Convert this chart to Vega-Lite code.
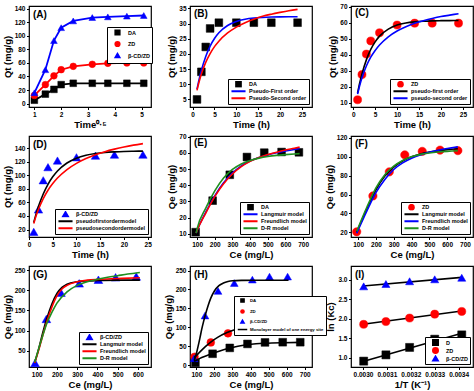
{
"$schema": "https://vega.github.io/schema/vega-lite/v6.json",
"padding": {"left": 1, "top": 3, "right": 1, "bottom": 1},
"config": {
 "font": "Liberation Sans",
 "view": {"stroke": "black", "strokeWidth": 1.2},
 "axis": {"grid": false, "domain": false, "tickColor": "black", "tickSize": 2.5, "tickWidth": 1, "labelFontSize": 6.5, "labelFontWeight": "bold", "labelColor": "black", "titleFontSize": 9.5, "titleFontWeight": "bold", "titleColor": "black", "labelPadding": 1.5, "titlePadding": 2, "labelFlush": false, "labelOverlap": false},
 "legend": {"orient": "bottom-right", "offset": 3, "padding": 2, "strokeColor": "black", "strokeWidth": 1, "fillColor": "white", "labelFontSize": 5.5, "labelFontWeight": "bold", "labelColor": "black", "symbolSize": 22, "symbolOffset": 5, "labelOffset": 7, "rowPadding": 0.01, "labelLimit": 200},
 "title": {"anchor": "start", "frame": "group", "offset": -14, "dx": 4, "fontSize": 10, "fontWeight": "bold", "color": "black"}
},
"datasets": {
 "Ap": [
  {"s":"DA","x":1,"y":5},{"s":"DA","x":1.41,"y":14},{"s":"DA","x":1.73,"y":21},{"s":"DA","x":2,"y":28},{"s":"DA","x":2.45,"y":30},{"s":"DA","x":3.16,"y":30},{"s":"DA","x":3.74,"y":30},{"s":"DA","x":4.45,"y":30},{"s":"DA","x":5.08,"y":30},
  {"s":"ZD","x":1,"y":12},{"s":"ZD","x":1.41,"y":28},{"s":"ZD","x":1.73,"y":41},{"s":"ZD","x":2,"y":50},{"s":"ZD","x":2.45,"y":55},{"s":"ZD","x":3.16,"y":58},{"s":"ZD","x":3.74,"y":59.5},{"s":"ZD","x":4.45,"y":60},{"s":"ZD","x":5.08,"y":60},
  {"s":"β-CD/ZD","x":1,"y":16},{"s":"β-CD/ZD","x":1.41,"y":50},{"s":"β-CD/ZD","x":1.73,"y":93},{"s":"β-CD/ZD","x":2,"y":112},{"s":"β-CD/ZD","x":2.45,"y":122},{"s":"β-CD/ZD","x":3.16,"y":127},{"s":"β-CD/ZD","x":3.74,"y":128},{"s":"β-CD/ZD","x":4.45,"y":129},{"s":"β-CD/ZD","x":5.08,"y":130}
 ],
 "Bp": [
  {"s":"DA","x":1,"y":5},{"s":"DA","x":2,"y":14.1},{"s":"DA","x":3,"y":22.3},{"s":"DA","x":4,"y":28.4},{"s":"DA","x":6,"y":30.3},{"s":"DA","x":10,"y":30.3},{"s":"DA","x":14,"y":30.3},{"s":"DA","x":18,"y":30.3},{"s":"DA","x":24,"y":30.3}
 ],
 "Bl": [
  {"s":"Pseudo-First order","x":1,"y":8.37},{"s":"Pseudo-First order","x":1.5,"y":11.7},{"s":"Pseudo-First order","x":2,"y":14.57},{"s":"Pseudo-First order","x":3,"y":19.17},{"s":"Pseudo-First order","x":4,"y":22.57},{"s":"Pseudo-First order","x":5,"y":25.09},{"s":"Pseudo-First order","x":6,"y":26.96},{"s":"Pseudo-First order","x":8,"y":29.37},{"s":"Pseudo-First order","x":10,"y":30.69},{"s":"Pseudo-First order","x":12,"y":31.42},{"s":"Pseudo-First order","x":14,"y":31.82},{"s":"Pseudo-First order","x":16,"y":32.03},{"s":"Pseudo-First order","x":18,"y":32.15},{"s":"Pseudo-First order","x":20,"y":32.22},{"s":"Pseudo-First order","x":22,"y":32.26},{"s":"Pseudo-First order","x":24,"y":32.28},
  {"s":"Pseudo-Second order","x":1,"y":8.0},{"s":"Pseudo-Second order","x":1.5,"y":10.9},{"s":"Pseudo-Second order","x":2,"y":13.4},{"s":"Pseudo-Second order","x":3,"y":17.2},{"s":"Pseudo-Second order","x":4,"y":20.1},{"s":"Pseudo-Second order","x":5,"y":22.4},{"s":"Pseudo-Second order","x":6,"y":24.2},{"s":"Pseudo-Second order","x":8,"y":26.9},{"s":"Pseudo-Second order","x":10,"y":28.85},{"s":"Pseudo-Second order","x":12,"y":30.3},{"s":"Pseudo-Second order","x":14,"y":31.45},{"s":"Pseudo-Second order","x":16,"y":32.4},{"s":"Pseudo-Second order","x":18,"y":33.1},{"s":"Pseudo-Second order","x":20,"y":33.7},{"s":"Pseudo-Second order","x":22,"y":34.25},{"s":"Pseudo-Second order","x":24,"y":34.7}
 ],
 "Cp": [
  {"s":"ZD","x":1,"y":12},{"s":"ZD","x":2,"y":27.7},{"s":"ZD","x":3,"y":40.5},{"s":"ZD","x":4,"y":48.7},{"s":"ZD","x":6,"y":53.8},{"s":"ZD","x":10,"y":58.6},{"s":"ZD","x":14,"y":59.8},{"s":"ZD","x":18,"y":59.8},{"s":"ZD","x":24,"y":59.8}
 ],
 "Cl": [
  {"s":"pseudo-first order","x":1,"y":16.2},{"s":"pseudo-first order","x":1.5,"y":22.6},{"s":"pseudo-first order","x":2,"y":28.1},{"s":"pseudo-first order","x":3,"y":36.9},{"s":"pseudo-first order","x":4,"y":43.4},{"s":"pseudo-first order","x":5,"y":48.1},{"s":"pseudo-first order","x":6,"y":51.7},{"s":"pseudo-first order","x":8,"y":56.1},{"s":"pseudo-first order","x":10,"y":58.6},{"s":"pseudo-first order","x":12,"y":59.9},{"s":"pseudo-first order","x":14,"y":60.6},{"s":"pseudo-first order","x":16,"y":61.0},{"s":"pseudo-first order","x":18,"y":61.25},{"s":"pseudo-first order","x":20,"y":61.35},{"s":"pseudo-first order","x":22,"y":61.4},{"s":"pseudo-first order","x":24,"y":61.45},
  {"s":"pseudo-second order","x":1,"y":15.5},{"s":"pseudo-second order","x":1.5,"y":21.1},{"s":"pseudo-second order","x":2,"y":25.8},{"s":"pseudo-second order","x":3,"y":33.1},{"s":"pseudo-second order","x":4,"y":38.6},{"s":"pseudo-second order","x":5,"y":42.8},{"s":"pseudo-second order","x":6,"y":46.2},{"s":"pseudo-second order","x":8,"y":51.3},{"s":"pseudo-second order","x":10,"y":54.9},{"s":"pseudo-second order","x":12,"y":57.6},{"s":"pseudo-second order","x":14,"y":59.7},{"s":"pseudo-second order","x":16,"y":61.3},{"s":"pseudo-second order","x":18,"y":62.7},{"s":"pseudo-second order","x":20,"y":63.9},{"s":"pseudo-second order","x":22,"y":64.8},{"s":"pseudo-second order","x":24,"y":65.7}
 ],
 "Dp": [
  {"s":"β-CD/ZD","x":1,"y":16.6},{"s":"β-CD/ZD","x":2,"y":49.6},{"s":"β-CD/ZD","x":3,"y":92.7},{"s":"β-CD/ZD","x":4,"y":112},{"s":"β-CD/ZD","x":6,"y":121.8},{"s":"β-CD/ZD","x":10,"y":126.6},{"s":"β-CD/ZD","x":14,"y":129},{"s":"β-CD/ZD","x":18,"y":130.5},{"s":"β-CD/ZD","x":24,"y":130.5}
 ],
 "Dl": [
  {"s":"pseudofirstordermodel","x":1,"y":30.5},{"s":"pseudofirstordermodel","x":1.5,"y":43.1},{"s":"pseudofirstordermodel","x":2,"y":54.2},{"s":"pseudofirstordermodel","x":3,"y":72.5},{"s":"pseudofirstordermodel","x":4,"y":86.8},{"s":"pseudofirstordermodel","x":5,"y":97.8},{"s":"pseudofirstordermodel","x":6,"y":106.4},{"s":"pseudofirstordermodel","x":8,"y":118.2},{"s":"pseudofirstordermodel","x":10,"y":125.3},{"s":"pseudofirstordermodel","x":12,"y":129.5},{"s":"pseudofirstordermodel","x":14,"y":132.1},{"s":"pseudofirstordermodel","x":16,"y":133.7},{"s":"pseudofirstordermodel","x":18,"y":134.6},{"s":"pseudofirstordermodel","x":20,"y":135.2},{"s":"pseudofirstordermodel","x":22,"y":135.5},{"s":"pseudofirstordermodel","x":24,"y":135.7},
  {"s":"pseudosecondordermodel","x":1,"y":29},{"s":"pseudosecondordermodel","x":1.5,"y":40.2},{"s":"pseudosecondordermodel","x":2,"y":49.9},{"s":"pseudosecondordermodel","x":3,"y":65.6},{"s":"pseudosecondordermodel","x":4,"y":78},{"s":"pseudosecondordermodel","x":5,"y":87.8},{"s":"pseudosecondordermodel","x":6,"y":96},{"s":"pseudosecondordermodel","x":8,"y":108.5},{"s":"pseudosecondordermodel","x":10,"y":117.7},{"s":"pseudosecondordermodel","x":12,"y":124.8},{"s":"pseudosecondordermodel","x":14,"y":130.4},{"s":"pseudosecondordermodel","x":16,"y":134.9},{"s":"pseudosecondordermodel","x":18,"y":138.6},{"s":"pseudosecondordermodel","x":20,"y":141.8},{"s":"pseudosecondordermodel","x":22,"y":144.5},{"s":"pseudosecondordermodel","x":24,"y":146.8}
 ],
 "Ep": [
  {"s":"DA","x":92,"y":11},{"s":"DA","x":188,"y":30.5},{"s":"DA","x":285,"y":46.5},{"s":"DA","x":382,"y":57.5},{"s":"DA","x":480,"y":60.2},{"s":"DA","x":578,"y":60.6},{"s":"DA","x":676,"y":60.4}
 ],
 "El": [
  {"s":"Langmuir model","x":95,"y":10.5},{"s":"Langmuir model","x":100,"y":12},{"s":"Langmuir model","x":150,"y":23.5},{"s":"Langmuir model","x":200,"y":33.5},{"s":"Langmuir model","x":250,"y":41.5},{"s":"Langmuir model","x":300,"y":47.5},{"s":"Langmuir model","x":350,"y":52},{"s":"Langmuir model","x":400,"y":55},{"s":"Langmuir model","x":450,"y":57.2},{"s":"Langmuir model","x":500,"y":58.8},{"s":"Langmuir model","x":550,"y":60.1},{"s":"Langmuir model","x":600,"y":61.2},{"s":"Langmuir model","x":650,"y":62.2},{"s":"Langmuir model","x":680,"y":62.8},
  {"s":"Freundlich model","x":95,"y":10.5},{"s":"Freundlich model","x":100,"y":12},{"s":"Freundlich model","x":150,"y":23},{"s":"Freundlich model","x":200,"y":33},{"s":"Freundlich model","x":250,"y":41},{"s":"Freundlich model","x":300,"y":47},{"s":"Freundlich model","x":350,"y":51.5},{"s":"Freundlich model","x":400,"y":54.8},{"s":"Freundlich model","x":450,"y":57.2},{"s":"Freundlich model","x":500,"y":59},{"s":"Freundlich model","x":550,"y":60.5},{"s":"Freundlich model","x":600,"y":61.8},{"s":"Freundlich model","x":650,"y":62.9},{"s":"Freundlich model","x":680,"y":63.6},
  {"s":"D-R model","x":95,"y":10.5},{"s":"D-R model","x":100,"y":13},{"s":"D-R model","x":150,"y":26},{"s":"D-R model","x":200,"y":36.5},{"s":"D-R model","x":250,"y":44.5},{"s":"D-R model","x":300,"y":49.8},{"s":"D-R model","x":350,"y":53.2},{"s":"D-R model","x":400,"y":55.4},{"s":"D-R model","x":450,"y":56.8},{"s":"D-R model","x":500,"y":57.8},{"s":"D-R model","x":550,"y":58.5},{"s":"D-R model","x":600,"y":59},{"s":"D-R model","x":650,"y":59.4},{"s":"D-R model","x":680,"y":59.6}
 ],
 "Fp": [
  {"s":"ZD","x":92,"y":20.5},{"s":"ZD","x":183,"y":58.5},{"s":"ZD","x":275,"y":84},{"s":"ZD","x":362,"y":102},{"s":"ZD","x":460,"y":105.7},{"s":"ZD","x":560,"y":107},{"s":"ZD","x":660,"y":106.5}
 ],
 "Fl": [
  {"s":"Langmuir model","x":92,"y":20},{"s":"Langmuir model","x":150,"y":45.5},{"s":"Langmuir model","x":200,"y":65},{"s":"Langmuir model","x":250,"y":79.5},{"s":"Langmuir model","x":300,"y":89},{"s":"Langmuir model","x":350,"y":95.5},{"s":"Langmuir model","x":400,"y":100},{"s":"Langmuir model","x":450,"y":103},{"s":"Langmuir model","x":500,"y":105},{"s":"Langmuir model","x":550,"y":106.5},{"s":"Langmuir model","x":600,"y":107.5},{"s":"Langmuir model","x":660,"y":108.5},
  {"s":"Freundlich model","x":92,"y":19},{"s":"Freundlich model","x":150,"y":43},{"s":"Freundlich model","x":200,"y":62},{"s":"Freundlich model","x":250,"y":76},{"s":"Freundlich model","x":300,"y":86.5},{"s":"Freundlich model","x":350,"y":93.5},{"s":"Freundlich model","x":400,"y":98.5},{"s":"Freundlich model","x":450,"y":102},{"s":"Freundlich model","x":500,"y":104.8},{"s":"Freundlich model","x":550,"y":107},{"s":"Freundlich model","x":600,"y":108.8},{"s":"Freundlich model","x":660,"y":110.5},
  {"s":"D-R model","x":92,"y":21},{"s":"D-R model","x":150,"y":47},{"s":"D-R model","x":200,"y":67},{"s":"D-R model","x":250,"y":81},{"s":"D-R model","x":300,"y":90},{"s":"D-R model","x":350,"y":96},{"s":"D-R model","x":400,"y":100},{"s":"D-R model","x":450,"y":102.5},{"s":"D-R model","x":500,"y":104},{"s":"D-R model","x":550,"y":105},{"s":"D-R model","x":600,"y":105.7},{"s":"D-R model","x":660,"y":106.3}
 ],
 "Gp": [
  {"s":"β-CD/ZD","x":92,"y":20},{"s":"β-CD/ZD","x":148,"y":129},{"s":"β-CD/ZD","x":220,"y":194},{"s":"β-CD/ZD","x":310,"y":217},{"s":"β-CD/ZD","x":405,"y":226},{"s":"β-CD/ZD","x":490,"y":232},{"s":"β-CD/ZD","x":592,"y":234}
 ],
 "Gl": [
  {"s":"Langmuir model","x":90,"y":20},{"s":"Langmuir model","x":110,"y":55},{"s":"Langmuir model","x":130,"y":95},{"s":"Langmuir model","x":150,"y":130},{"s":"Langmuir model","x":175,"y":166},{"s":"Langmuir model","x":200,"y":192},{"s":"Langmuir model","x":225,"y":207},{"s":"Langmuir model","x":250,"y":215},{"s":"Langmuir model","x":300,"y":221},{"s":"Langmuir model","x":350,"y":223},{"s":"Langmuir model","x":400,"y":224},{"s":"Langmuir model","x":500,"y":225},{"s":"Langmuir model","x":610,"y":225},
  {"s":"Freundlich model","x":90,"y":20},{"s":"Freundlich model","x":110,"y":52},{"s":"Freundlich model","x":130,"y":88},{"s":"Freundlich model","x":150,"y":122},{"s":"Freundlich model","x":175,"y":158},{"s":"Freundlich model","x":200,"y":186},{"s":"Freundlich model","x":225,"y":203},{"s":"Freundlich model","x":250,"y":212},{"s":"Freundlich model","x":300,"y":221},{"s":"Freundlich model","x":350,"y":225},{"s":"Freundlich model","x":400,"y":227},{"s":"Freundlich model","x":500,"y":229},{"s":"Freundlich model","x":610,"y":231},
  {"s":"D-R model","x":90,"y":22},{"s":"D-R model","x":110,"y":55},{"s":"D-R model","x":130,"y":88},{"s":"D-R model","x":150,"y":118},{"s":"D-R model","x":175,"y":145},{"s":"D-R model","x":200,"y":168},{"s":"D-R model","x":250,"y":196},{"s":"D-R model","x":300,"y":212},{"s":"D-R model","x":350,"y":221},{"s":"D-R model","x":400,"y":227},{"s":"D-R model","x":450,"y":232},{"s":"D-R model","x":500,"y":236},{"s":"D-R model","x":550,"y":240},{"s":"D-R model","x":610,"y":244}
 ],
 "Hp": [
  {"s":"DA","x":95,"y":6},{"s":"DA","x":190,"y":30},{"s":"DA","x":285,"y":45.5},{"s":"DA","x":383,"y":56},{"s":"DA","x":480,"y":60},{"s":"DA","x":578,"y":60.5},{"s":"DA","x":675,"y":60.5},
  {"s":"ZD","x":90,"y":22},{"s":"ZD","x":180,"y":60},{"s":"ZD","x":275,"y":84},{"s":"ZD","x":365,"y":101},{"s":"ZD","x":460,"y":105.5},{"s":"ZD","x":560,"y":107},{"s":"ZD","x":660,"y":107},
  {"s":"β-CD/ZD","x":88,"y":18},{"s":"β-CD/ZD","x":148,"y":131},{"s":"β-CD/ZD","x":220,"y":196},{"s":"β-CD/ZD","x":310,"y":217},{"s":"β-CD/ZD","x":410,"y":226},{"s":"β-CD/ZD","x":505,"y":234},{"s":"β-CD/ZD","x":605,"y":234}
 ],
 "Hl": [
  {"s":"Monolayer model of one energy site","g":"c","x":88,"y":12},{"s":"Monolayer model of one energy site","g":"c","x":100,"y":30},{"s":"Monolayer model of one energy site","g":"c","x":110,"y":50},{"s":"Monolayer model of one energy site","g":"c","x":120,"y":72},{"s":"Monolayer model of one energy site","g":"c","x":130,"y":95},{"s":"Monolayer model of one energy site","g":"c","x":140,"y":115},{"s":"Monolayer model of one energy site","g":"c","x":150,"y":133},{"s":"Monolayer model of one energy site","g":"c","x":165,"y":157},{"s":"Monolayer model of one energy site","g":"c","x":180,"y":177},{"s":"Monolayer model of one energy site","g":"c","x":200,"y":196},{"s":"Monolayer model of one energy site","g":"c","x":225,"y":210},{"s":"Monolayer model of one energy site","g":"c","x":250,"y":217},{"s":"Monolayer model of one energy site","g":"c","x":275,"y":221},{"s":"Monolayer model of one energy site","g":"c","x":300,"y":223},{"s":"Monolayer model of one energy site","g":"c","x":350,"y":224},{"s":"Monolayer model of one energy site","g":"c","x":450,"y":224.5},{"s":"Monolayer model of one energy site","g":"c","x":610,"y":224.5},
  {"s":"Monolayer model of one energy site","g":"z","x":88,"y":20},{"s":"Monolayer model of one energy site","g":"z","x":100,"y":25},{"s":"Monolayer model of one energy site","g":"z","x":120,"y":35},{"s":"Monolayer model of one energy site","g":"z","x":150,"y":49},{"s":"Monolayer model of one energy site","g":"z","x":180,"y":61},{"s":"Monolayer model of one energy site","g":"z","x":220,"y":74},{"s":"Monolayer model of one energy site","g":"z","x":270,"y":86},{"s":"Monolayer model of one energy site","g":"z","x":320,"y":95},{"s":"Monolayer model of one energy site","g":"z","x":370,"y":100.5},{"s":"Monolayer model of one energy site","g":"z","x":420,"y":103.5},{"s":"Monolayer model of one energy site","g":"z","x":470,"y":105.5},{"s":"Monolayer model of one energy site","g":"z","x":550,"y":107},{"s":"Monolayer model of one energy site","g":"z","x":660,"y":107.5},
  {"s":"Monolayer model of one energy site","g":"d","x":88,"y":10},{"s":"Monolayer model of one energy site","g":"d","x":100,"y":13},{"s":"Monolayer model of one energy site","g":"d","x":130,"y":20},{"s":"Monolayer model of one energy site","g":"d","x":180,"y":29},{"s":"Monolayer model of one energy site","g":"d","x":230,"y":37.5},{"s":"Monolayer model of one energy site","g":"d","x":280,"y":44.5},{"s":"Monolayer model of one energy site","g":"d","x":330,"y":50},{"s":"Monolayer model of one energy site","g":"d","x":380,"y":53.8},{"s":"Monolayer model of one energy site","g":"d","x":430,"y":56.3},{"s":"Monolayer model of one energy site","g":"d","x":480,"y":57.8},{"s":"Monolayer model of one energy site","g":"d","x":580,"y":59.3},{"s":"Monolayer model of one energy site","g":"d","x":680,"y":60}
 ],
 "Ip": [
  {"s":"D","x":0.003003,"y":0.92},{"s":"D","x":0.003096,"y":1.08},{"s":"D","x":0.003195,"y":1.27},{"s":"D","x":0.0033,"y":1.48},{"s":"D","x":0.003413,"y":1.59},
  {"s":"ZD","x":0.003003,"y":1.86},{"s":"ZD","x":0.003096,"y":1.93},{"s":"ZD","x":0.003195,"y":2.02},{"s":"ZD","x":0.0033,"y":2.12},{"s":"ZD","x":0.003413,"y":2.19},
  {"s":"β-CD/ZD","x":0.003003,"y":2.83},{"s":"β-CD/ZD","x":0.003096,"y":2.89},{"s":"β-CD/ZD","x":0.003195,"y":2.96},{"s":"β-CD/ZD","x":0.0033,"y":3.01},{"s":"β-CD/ZD","x":0.003413,"y":3.05}
 ],
 "Il": [
  {"s":"D","x":0.003,"y":0.91},{"s":"D","x":0.003413,"y":1.63},
  {"s":"ZD","x":0.003,"y":1.86},{"s":"ZD","x":0.003413,"y":2.2},
  {"s":"B","x":0.003,"y":2.84},{"s":"B","x":0.003413,"y":3.06}
 ]
},
"columns": 3,
"spacing": {"row": 29, "column": 39},
"bounds": "flush",
"resolve": {"scale": {"fill": "independent", "stroke": "independent", "shape": "independent"}, "legend": {"fill": "independent", "stroke": "independent", "shape": "independent"}},
"concat": [
 {
  "width": 122, "height": 101, "title": "(A)",
  "encoding": {
   "x": {"field": "x", "type": "quantitative", "scale": {"domain": [0.8, 5.35], "nice": false, "zero": false}, "axis": {"values": [1,2,3,4,5], "title": "Time⁰·⁵"}},
   "y": {"field": "y", "type": "quantitative", "scale": {"domain": [-5, 144], "nice": false, "zero": false}, "axis": {"values": [0,20,40,60,80,100,120,140], "title": "Qt (mg/g)"}}
  },
  "layer": [
   {"data": {"name": "Ap"}, "mark": {"type": "line", "strokeWidth": 1.8},
    "encoding": {"stroke": {"field": "s", "type": "nominal", "scale": {"domain": ["DA","ZD","β-CD/ZD"], "range": ["#000000","#ff0000","#0000ff"]}, "legend": {"title": null, "orient": "none", "legendX": 78, "legendY": 21, "symbolSize": 22, "rowPadding": 0.5, "encode": {"symbols": {"update": {"strokeWidth": {"value": 1.5}}}}}}}},
   {"data": {"name": "Ap"}, "mark": {"type": "point", "filled": true, "size": 45, "opacity": 1, "strokeWidth": 0.5},
    "encoding": {
     "fill": {"field": "s", "type": "nominal", "scale": {"domain": ["DA","ZD","β-CD/ZD"], "range": ["#000000","#ff0000","#0000ff"]}, "legend": {"title": null, "orient": "none", "legendX": 78, "legendY": 21, "symbolSize": 22, "rowPadding": 0.5, "encode": {"symbols": {"update": {"strokeWidth": {"value": 1.5}}}}}},
     "stroke": {"field": "s", "type": "nominal", "scale": {"domain": ["DA","ZD","β-CD/ZD"], "range": ["#000000","#ff0000","#0000ff"]}, "legend": {"title": null, "orient": "none", "legendX": 78, "legendY": 21, "symbolSize": 22, "rowPadding": 0.5, "encode": {"symbols": {"update": {"strokeWidth": {"value": 1.5}}}}}},
     "shape": {"field": "s", "type": "nominal", "scale": {"domain": ["DA","ZD","β-CD/ZD"], "range": ["square","circle","triangle-up"]}, "legend": {"title": null, "orient": "none", "legendX": 78, "legendY": 21, "symbolSize": 22, "rowPadding": 0.5, "encode": {"symbols": {"update": {"strokeWidth": {"value": 1.5}}}}}}
    }}
  ]
 },
 {
  "width": 122, "height": 101, "title": "(B)",
  "encoding": {
   "x": {"field": "x", "type": "quantitative", "scale": {"domain": [-0.6, 27.3], "nice": false, "zero": false}, "axis": {"values": [0,5,10,15,20,25], "title": "Time (h)"}},
   "y": {"field": "y", "type": "quantitative", "scale": {"domain": [2.5, 35.8], "nice": false, "zero": false}, "axis": {"values": [5,10,15,20,25,30,35], "title": "Qt (mg/g)"}}
  },
  "layer": [
   {"data": {"name": "Bp"}, "mark": {"type": "point", "filled": true, "size": 60, "opacity": 1, "strokeWidth": 0.5},
    "encoding": {
     "fill": {"field": "s", "type": "nominal", "scale": {"domain": ["DA","Pseudo-First order","Pseudo-Second order"], "range": ["#000000","#0000ff","#ff0000"]}, "legend": {"title": null, "symbolSize": 22, "rowPadding": 0.01, "clipHeight": 6.5, "encode": {"symbols": {"update": {"strokeWidth": {"value": 2}}}}}},
     "stroke": {"field": "s", "type": "nominal", "scale": {"domain": ["DA","Pseudo-First order","Pseudo-Second order"], "range": ["#000000","#0000ff","#ff0000"]}, "legend": {"title": null, "symbolSize": 22, "rowPadding": 0.01, "clipHeight": 6.5, "encode": {"symbols": {"update": {"strokeWidth": {"value": 2}}}}}},
     "shape": {"field": "s", "type": "nominal", "scale": {"domain": ["DA","Pseudo-First order","Pseudo-Second order"], "range": ["square","M-3,0H3","M-3,0H3"]}, "legend": {"title": null, "symbolSize": 22, "rowPadding": 0.01, "clipHeight": 6.5, "encode": {"symbols": {"update": {"strokeWidth": {"value": 2}}}}}}
    }},
   {"data": {"name": "Bl"}, "mark": {"type": "line", "strokeWidth": 1.6, "interpolate": "monotone"},
    "encoding": {"stroke": {"field": "s", "type": "nominal", "scale": {"domain": ["DA","Pseudo-First order","Pseudo-Second order"], "range": ["#000000","#0000ff","#ff0000"]}, "legend": {"title": null, "symbolSize": 22, "rowPadding": 0.01, "clipHeight": 6.5, "encode": {"symbols": {"update": {"strokeWidth": {"value": 2}}}}}}}}
  ]
 },
 {
  "width": 122, "height": 101, "title": "(C)",
  "encoding": {
   "x": {"field": "x", "type": "quantitative", "scale": {"domain": [-0.5, 27.3], "nice": false, "zero": false}, "axis": {"values": [0,5,10,15,20,25], "title": "Time (h)"}},
   "y": {"field": "y", "type": "quantitative", "scale": {"domain": [7.5, 70.5], "nice": false, "zero": false}, "axis": {"values": [10,20,30,40,50,60,70], "title": "Qt (mg/g)"}}
  },
  "layer": [
   {"data": {"name": "Cp"}, "mark": {"type": "point", "filled": true, "size": 65, "opacity": 1, "strokeWidth": 0.5},
    "encoding": {
     "fill": {"field": "s", "type": "nominal", "scale": {"domain": ["ZD","pseudo-first order","pseudo-second order"], "range": ["#ff0000","#000000","#0000ff"]}, "legend": {"title": null, "symbolSize": 22, "rowPadding": 0.01, "clipHeight": 6.5, "encode": {"symbols": {"update": {"strokeWidth": {"value": 2}}}}}},
     "stroke": {"field": "s", "type": "nominal", "scale": {"domain": ["ZD","pseudo-first order","pseudo-second order"], "range": ["#ff0000","#000000","#0000ff"]}, "legend": {"title": null, "symbolSize": 22, "rowPadding": 0.01, "clipHeight": 6.5, "encode": {"symbols": {"update": {"strokeWidth": {"value": 2}}}}}},
     "shape": {"field": "s", "type": "nominal", "scale": {"domain": ["ZD","pseudo-first order","pseudo-second order"], "range": ["circle","M-3,0H3","M-3,0H3"]}, "legend": {"title": null, "symbolSize": 22, "rowPadding": 0.01, "clipHeight": 6.5, "encode": {"symbols": {"update": {"strokeWidth": {"value": 2}}}}}}
    }},
   {"data": {"name": "Cl"}, "mark": {"type": "line", "strokeWidth": 1.6, "interpolate": "monotone"},
    "encoding": {"stroke": {"field": "s", "type": "nominal", "scale": {"domain": ["ZD","pseudo-first order","pseudo-second order"], "range": ["#ff0000","#000000","#0000ff"]}, "legend": {"title": null, "symbolSize": 22, "rowPadding": 0.01, "clipHeight": 6.5, "encode": {"symbols": {"update": {"strokeWidth": {"value": 2}}}}}}}}
  ]
 },
 {
  "width": 122, "height": 101, "title": "(D)",
  "encoding": {
   "x": {"field": "x", "type": "quantitative", "scale": {"domain": [0, 25.7], "nice": false, "zero": false}, "axis": {"values": [0,5,10,15,20,25], "title": "Time (h)"}},
   "y": {"field": "y", "type": "quantitative", "scale": {"domain": [9, 158], "nice": false, "zero": false}, "axis": {"values": [20,40,60,80,100,120,140], "title": "Qt (mg/g)"}}
  },
  "layer": [
   {"data": {"name": "Dp"}, "mark": {"type": "point", "filled": true, "size": 70, "opacity": 1, "strokeWidth": 0.5},
    "encoding": {
     "fill": {"field": "s", "type": "nominal", "scale": {"domain": ["β-CD/ZD","pseudofirstordermodel","pseudosecondordermodel"], "range": ["#0000ff","#000000","#ff0000"]}, "legend": {"title": null, "symbolSize": 22, "rowPadding": 0.01, "clipHeight": 6.5, "encode": {"symbols": {"update": {"strokeWidth": {"value": 2}}}}}},
     "stroke": {"field": "s", "type": "nominal", "scale": {"domain": ["β-CD/ZD","pseudofirstordermodel","pseudosecondordermodel"], "range": ["#0000ff","#000000","#ff0000"]}, "legend": {"title": null, "symbolSize": 22, "rowPadding": 0.01, "clipHeight": 6.5, "encode": {"symbols": {"update": {"strokeWidth": {"value": 2}}}}}},
     "shape": {"field": "s", "type": "nominal", "scale": {"domain": ["β-CD/ZD","pseudofirstordermodel","pseudosecondordermodel"], "range": ["triangle-up","M-3,0H3","M-3,0H3"]}, "legend": {"title": null, "symbolSize": 22, "rowPadding": 0.01, "clipHeight": 6.5, "encode": {"symbols": {"update": {"strokeWidth": {"value": 2}}}}}}
    }},
   {"data": {"name": "Dl"}, "mark": {"type": "line", "strokeWidth": 1.6, "interpolate": "monotone"},
    "encoding": {"stroke": {"field": "s", "type": "nominal", "scale": {"domain": ["β-CD/ZD","pseudofirstordermodel","pseudosecondordermodel"], "range": ["#0000ff","#000000","#ff0000"]}, "legend": {"title": null, "symbolSize": 22, "rowPadding": 0.01, "clipHeight": 6.5, "encode": {"symbols": {"update": {"strokeWidth": {"value": 2}}}}}}}}
  ]
 },
 {
  "width": 122, "height": 101, "title": "(E)",
  "encoding": {
   "x": {"field": "x", "type": "quantitative", "scale": {"domain": [60, 750], "nice": false, "zero": false}, "axis": {"values": [100,200,300,400,500,600,700], "title": "Ce (mg/L)"}},
   "y": {"field": "y", "type": "quantitative", "scale": {"domain": [8, 70.5], "nice": false, "zero": false}, "axis": {"values": [10,20,30,40,50,60,70], "title": "Qe (mg/g)"}}
  },
  "layer": [
   {"data": {"name": "Ep"}, "mark": {"type": "point", "filled": true, "size": 60, "opacity": 1, "strokeWidth": 0.5},
    "encoding": {
     "fill": {"field": "s", "type": "nominal", "scale": {"domain": ["DA","Langmuir model","Freundlich model","D-R model"], "range": ["#000000","#0000ff","#ff0000","#1f8f1f"]}, "legend": {"title": null, "symbolSize": 22, "rowPadding": 0.01, "clipHeight": 6.5, "encode": {"symbols": {"update": {"strokeWidth": {"value": 2}}}}}},
     "stroke": {"field": "s", "type": "nominal", "scale": {"domain": ["DA","Langmuir model","Freundlich model","D-R model"], "range": ["#000000","#0000ff","#ff0000","#1f8f1f"]}, "legend": {"title": null, "symbolSize": 22, "rowPadding": 0.01, "clipHeight": 6.5, "encode": {"symbols": {"update": {"strokeWidth": {"value": 2}}}}}},
     "shape": {"field": "s", "type": "nominal", "scale": {"domain": ["DA","Langmuir model","Freundlich model","D-R model"], "range": ["square","M-3,0H3","M-3,0H3","M-3,0H3"]}, "legend": {"title": null, "symbolSize": 22, "rowPadding": 0.01, "clipHeight": 6.5, "encode": {"symbols": {"update": {"strokeWidth": {"value": 2}}}}}}
    }},
   {"data": {"name": "El"}, "mark": {"type": "line", "strokeWidth": 1.6, "interpolate": "monotone"},
    "encoding": {"stroke": {"field": "s", "type": "nominal", "scale": {"domain": ["DA","Langmuir model","Freundlich model","D-R model"], "range": ["#000000","#0000ff","#ff0000","#1f8f1f"]}, "legend": {"title": null, "symbolSize": 22, "rowPadding": 0.01, "clipHeight": 6.5, "encode": {"symbols": {"update": {"strokeWidth": {"value": 2}}}}}}}}
  ]
 },
 {
  "width": 122, "height": 101, "title": "(F)",
  "encoding": {
   "x": {"field": "x", "type": "quantitative", "scale": {"domain": [60, 745], "nice": false, "zero": false}, "axis": {"values": [100,200,300,400,500,600,700], "title": "Ce (mg/L)"}},
   "y": {"field": "y", "type": "quantitative", "scale": {"domain": [15, 122], "nice": false, "zero": false}, "axis": {"values": [20,40,60,80,100,120], "title": "Qe (mg/g)"}}
  },
  "layer": [
   {"data": {"name": "Fp"}, "mark": {"type": "point", "filled": true, "size": 70, "opacity": 1, "strokeWidth": 0.5},
    "encoding": {
     "fill": {"field": "s", "type": "nominal", "scale": {"domain": ["ZD","Langmuir model","Freundlich model","D-R model"], "range": ["#ff0000","#000000","#0000ff","#1f8f1f"]}, "legend": {"title": null, "symbolSize": 22, "rowPadding": 0.01, "clipHeight": 6.5, "encode": {"symbols": {"update": {"strokeWidth": {"value": 2}}}}}},
     "stroke": {"field": "s", "type": "nominal", "scale": {"domain": ["ZD","Langmuir model","Freundlich model","D-R model"], "range": ["#ff0000","#000000","#0000ff","#1f8f1f"]}, "legend": {"title": null, "symbolSize": 22, "rowPadding": 0.01, "clipHeight": 6.5, "encode": {"symbols": {"update": {"strokeWidth": {"value": 2}}}}}},
     "shape": {"field": "s", "type": "nominal", "scale": {"domain": ["ZD","Langmuir model","Freundlich model","D-R model"], "range": ["circle","M-3,0H3","M-3,0H3","M-3,0H3"]}, "legend": {"title": null, "symbolSize": 22, "rowPadding": 0.01, "clipHeight": 6.5, "encode": {"symbols": {"update": {"strokeWidth": {"value": 2}}}}}}
    }},
   {"data": {"name": "Fl"}, "mark": {"type": "line", "strokeWidth": 1.6, "interpolate": "monotone"},
    "encoding": {"stroke": {"field": "s", "type": "nominal", "scale": {"domain": ["ZD","Langmuir model","Freundlich model","D-R model"], "range": ["#ff0000","#000000","#0000ff","#1f8f1f"]}, "legend": {"title": null, "symbolSize": 22, "rowPadding": 0.01, "clipHeight": 6.5, "encode": {"symbols": {"update": {"strokeWidth": {"value": 2}}}}}}}}
  ]
 },
 {
  "width": 122, "height": 101, "title": "(G)",
  "encoding": {
   "x": {"field": "x", "type": "quantitative", "scale": {"domain": [62, 665], "nice": false, "zero": false}, "axis": {"values": [100,200,300,400,500,600], "title": "Ce (mg/L)"}},
   "y": {"field": "y", "type": "quantitative", "scale": {"domain": [10, 260], "nice": false, "zero": false}, "axis": {"values": [50,100,150,200,250], "title": "Qe (mg/g)"}}
  },
  "layer": [
   {"data": {"name": "Gp"}, "mark": {"type": "point", "filled": true, "size": 75, "opacity": 1, "strokeWidth": 0.5},
    "encoding": {
     "fill": {"field": "s", "type": "nominal", "scale": {"domain": ["β-CD/ZD","Langmuir model","Freundlich model","D-R model"], "range": ["#0000ff","#000000","#ff0000","#1f8f1f"]}, "legend": {"title": null, "symbolSize": 22, "rowPadding": 0.01, "clipHeight": 6.5, "encode": {"symbols": {"update": {"strokeWidth": {"value": 2}}}}}},
     "stroke": {"field": "s", "type": "nominal", "scale": {"domain": ["β-CD/ZD","Langmuir model","Freundlich model","D-R model"], "range": ["#0000ff","#000000","#ff0000","#1f8f1f"]}, "legend": {"title": null, "symbolSize": 22, "rowPadding": 0.01, "clipHeight": 6.5, "encode": {"symbols": {"update": {"strokeWidth": {"value": 2}}}}}},
     "shape": {"field": "s", "type": "nominal", "scale": {"domain": ["β-CD/ZD","Langmuir model","Freundlich model","D-R model"], "range": ["triangle-up","M-3,0H3","M-3,0H3","M-3,0H3"]}, "legend": {"title": null, "symbolSize": 22, "rowPadding": 0.01, "clipHeight": 6.5, "encode": {"symbols": {"update": {"strokeWidth": {"value": 2}}}}}}
    }},
   {"data": {"name": "Gl"}, "mark": {"type": "line", "strokeWidth": 1.6, "interpolate": "monotone"},
    "encoding": {"stroke": {"field": "s", "type": "nominal", "scale": {"domain": ["β-CD/ZD","Langmuir model","Freundlich model","D-R model"], "range": ["#0000ff","#000000","#ff0000","#1f8f1f"]}, "legend": {"title": null, "symbolSize": 22, "rowPadding": 0.01, "clipHeight": 6.5, "encode": {"symbols": {"update": {"strokeWidth": {"value": 2}}}}}}}}
  ]
 },
 {
  "width": 122, "height": 101, "title": "(H)",
  "encoding": {
   "x": {"field": "x", "type": "quantitative", "scale": {"domain": [65, 740], "nice": false, "zero": false}, "axis": {"values": [100,200,300,400,500,600,700], "title": "Ce (mg/L)"}},
   "y": {"field": "y", "type": "quantitative", "scale": {"domain": [-5, 262], "nice": false, "zero": false}, "axis": {"values": [0,50,100,150,200,250], "title": "Qe (mg/g)"}}
  },
  "layer": [
   {"data": {"name": "Hp"}, "mark": {"type": "point", "filled": true, "size": 60, "opacity": 1, "strokeWidth": 0.5},
    "encoding": {
     "fill": {"field": "s", "type": "nominal", "scale": {"domain": ["DA","ZD","β-CD/ZD","Monolayer model of one energy site"], "range": ["#000000","#ff0000","#0000ff","#000000"]}, "legend": {"title": null, "orient": "none", "legendX": 44, "legendY": 30, "labelFontSize": 4.3, "symbolSize": 10, "symbolOffset": 4, "rowPadding": 0.01, "labelOffset": 5, "padding": 2, "encode": {"symbols": {"update": {"strokeWidth": {"value": 1.5}}}}}},
     "stroke": {"field": "s", "type": "nominal", "scale": {"domain": ["DA","ZD","β-CD/ZD","Monolayer model of one energy site"], "range": ["#000000","#ff0000","#0000ff","#000000"]}, "legend": {"title": null, "orient": "none", "legendX": 44, "legendY": 30, "labelFontSize": 4.3, "symbolSize": 10, "symbolOffset": 4, "rowPadding": 0.01, "labelOffset": 5, "padding": 2, "encode": {"symbols": {"update": {"strokeWidth": {"value": 1.5}}}}}},
     "shape": {"field": "s", "type": "nominal", "scale": {"domain": ["DA","ZD","β-CD/ZD","Monolayer model of one energy site"], "range": ["square","circle","triangle-up","M-3,0H3"]}, "legend": {"title": null, "orient": "none", "legendX": 44, "legendY": 30, "labelFontSize": 4.3, "symbolSize": 10, "symbolOffset": 4, "rowPadding": 0.01, "labelOffset": 5, "padding": 2, "encode": {"symbols": {"update": {"strokeWidth": {"value": 1.5}}}}}}
    }},
   {"data": {"name": "Hl"}, "mark": {"type": "line", "strokeWidth": 1.6, "interpolate": "monotone"},
    "encoding": {"detail": {"field": "g"}, "stroke": {"field": "s", "type": "nominal", "scale": {"domain": ["DA","ZD","β-CD/ZD","Monolayer model of one energy site"], "range": ["#000000","#ff0000","#0000ff","#000000"]}, "legend": {"title": null, "orient": "none", "legendX": 44, "legendY": 30, "labelFontSize": 4.3, "symbolSize": 10, "symbolOffset": 4, "rowPadding": 0.01, "labelOffset": 5, "padding": 2, "encode": {"symbols": {"update": {"strokeWidth": {"value": 1.5}}}}}}}}
  ]
 },
 {
  "width": 122, "height": 101, "title": "(I)",
  "encoding": {
   "x": {"field": "x", "type": "quantitative", "scale": {"domain": [0.00295, 0.00346], "nice": false, "zero": false}, "axis": {"values": [0.003,0.0031,0.0032,0.0033,0.0034], "format": ".4f", "title": "1/T (K⁻¹)"}},
   "y": {"field": "y", "type": "quantitative", "scale": {"domain": [0.77, 3.35], "nice": false, "zero": false}, "axis": {"values": [1,1.5,2,2.5,3], "format": ".1f", "title": "ln (Kc)"}}
  },
  "layer": [
   {"data": {"name": "Il"}, "mark": {"type": "line", "strokeWidth": 1.6, "color": "#000000"},
    "encoding": {"detail": {"field": "s"}}},
   {"data": {"name": "Ip"}, "mark": {"type": "point", "filled": true, "size": 65, "opacity": 1, "strokeWidth": 0.5},
    "encoding": {
     "fill": {"field": "s", "type": "nominal", "scale": {"domain": ["D","ZD","β-CD/ZD"], "range": ["#000000","#ff0000","#0000ff"]}, "legend": {"title": null, "symbolSize": 30, "rowPadding": 1, "clipHeight": 7, "encode": {"symbols": {"update": {"strokeWidth": {"value": 1.5}}}}}},
     "stroke": {"field": "s", "type": "nominal", "scale": {"domain": ["D","ZD","β-CD/ZD"], "range": ["#000000","#ff0000","#0000ff"]}, "legend": {"title": null, "symbolSize": 30, "rowPadding": 1, "clipHeight": 7, "encode": {"symbols": {"update": {"strokeWidth": {"value": 1.5}}}}}},
     "shape": {"field": "s", "type": "nominal", "scale": {"domain": ["D","ZD","β-CD/ZD"], "range": ["square","circle","triangle-up"]}, "legend": {"title": null, "symbolSize": 30, "rowPadding": 1, "clipHeight": 7, "encode": {"symbols": {"update": {"strokeWidth": {"value": 1.5}}}}}}
    }}
  ]
 }
]
}
